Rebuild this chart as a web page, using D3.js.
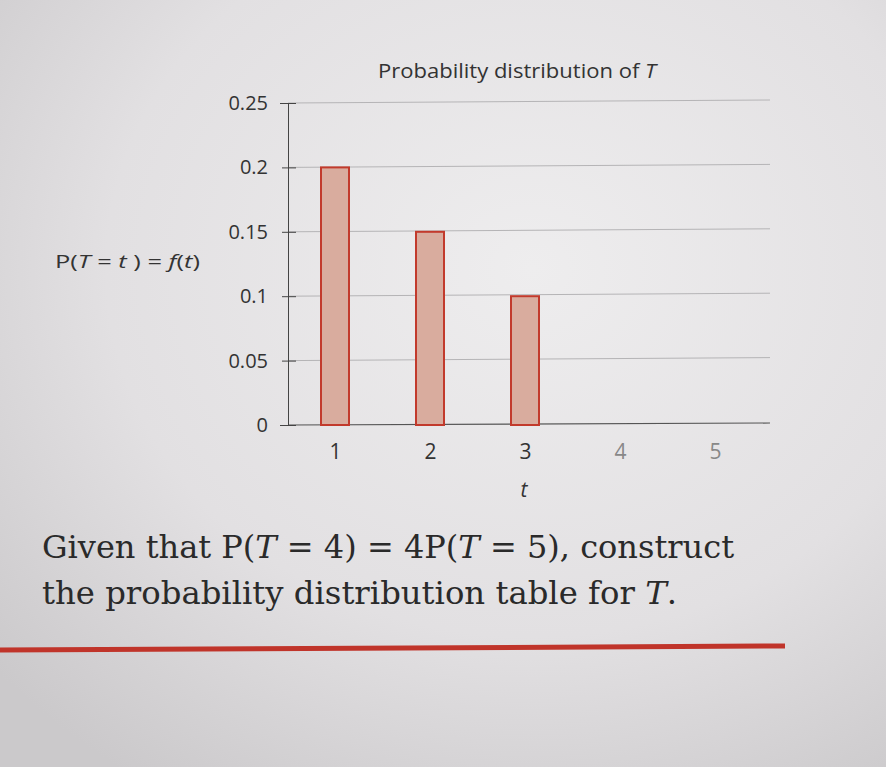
<!DOCTYPE html>
<html><head><meta charset="utf-8">
<script src="https://cdn.jsdelivr.net/npm/d3@7"></script>
<style>body{margin:0;background:#dcdadb;}</style>
</head><body>
<svg id="c" width="886" height="767"></svg>
<script>
const categories=[1,2,3];
const probs=[0.2,0.15,0.1];
const xTicks=[1,2,3,4,5];
const yTicks=[0,0.05,0.1,0.15,0.2,0.25];
const yTickLabels=["0","0.05","0.1","0.15","0.2","0.25"];

const svg=d3.select("#c");
const bg=svg.append("defs").append("radialGradient").attr("id","g").attr("cx","0.6").attr("cy","0.35").attr("r","0.8");
bg.append("stop").attr("offset","0").attr("stop-color","#eeedee");
bg.append("stop").attr("offset","0.6").attr("stop-color","#e2e0e2");
bg.append("stop").attr("offset","1").attr("stop-color","#cbc9cb");
svg.append("rect").attr("width",886).attr("height",767).attr("fill","url(#g)");

const x=d3.scaleLinear().domain([1,5]).range([335,715]);
const y=d3.scaleLinear().domain([0,0.25]).range([425,103]);
const ax=288;

const g=svg.append("g");
g.selectAll(".grid").data(yTicks.slice(1)).join("line")
 .attr("x1",ax).attr("x2",770).attr("y1",d=>y(d)).attr("y2",d=>y(d)-3)
 .attr("stroke","#b5b4b6").attr("stroke-width",1);
g.append("line").attr("x1",ax).attr("x2",770).attr("y1",y(0)).attr("y2",y(0)-2).attr("stroke","#555").attr("stroke-width",1.2);

const yAxis=d3.axisLeft(y).tickValues(yTicks).tickFormat((d,i)=>yTickLabels[i]).tickSize(8).tickPadding(12);
const ya=svg.append("g").attr("transform",`translate(${ax},0)`).call(yAxis);
ya.select(".domain").attr("stroke","#444");
ya.selectAll(".tick line").attr("stroke","#444").attr("transform","translate(8,0)").attr("x2",-14);
ya.selectAll("text").attr("font-family","Open Sans, sans-serif").attr("font-size",20).attr("fill","#333");

const xa=svg.append("g").attr("transform",`translate(0,${y(0)+5})`).call(d3.axisBottom(x).tickValues(xTicks).tickFormat(d3.format("d")).tickSize(0).tickPadding(14));
xa.select(".domain").remove();
xa.selectAll("text").attr("font-family","Open Sans, sans-serif").attr("font-size",21).attr("fill",(d)=>d>3?"#888":"#333");

svg.selectAll(".bar").data(categories).join("rect")
 .attr("x",(d)=>x(d)-14).attr("width",28)
 .attr("y",(d,i)=>y(probs[i])).attr("height",(d,i)=>y(0)-y(probs[i]))
 .attr("fill","#d9ac9e").attr("stroke","#c23a2c").attr("stroke-width",2);

const t=(s,xx,yy,o={})=>{const e=svg.append("text").attr("x",xx).attr("y",yy).attr("font-family",o.f||"Open Sans, sans-serif").attr("font-size",o.s||18).attr("fill",o.c||"#333").attr("text-anchor",o.a||"start").html(s);if(o.L)e.attr("textLength",o.L).attr("lengthAdjust","spacingAndGlyphs");return e;};
t("Probability distribution of <tspan font-style='italic'>T</tspan>",517,78,{a:"middle",s:20,L:278});
t("P(<tspan font-style='italic'>T</tspan> = <tspan font-style='italic'>t</tspan> ) = <tspan font-style='italic'>f</tspan>(<tspan font-style='italic'>t</tspan>)",55,268,{s:19,L:145});
t("<tspan font-style='italic'>t</tspan>",524,497,{a:"middle",s:21});
const ser="DejaVu Serif, Liberation Serif, serif";
t("Given that P(<tspan font-style='italic'>T</tspan> = 4) = 4P(<tspan font-style='italic'>T</tspan> = 5), construct",42,558,{f:ser,s:31,c:"#2a2a2a",L:692});
t("the probability distribution table for <tspan font-style='italic'>T</tspan>.",42,604,{f:ser,s:31,c:"#2a2a2a",L:635});
svg.append("line").attr("x1",0).attr("x2",785).attr("y1",650).attr("y2",646).attr("stroke","#c0342a").attr("stroke-width",5);
</script>
</body></html>
